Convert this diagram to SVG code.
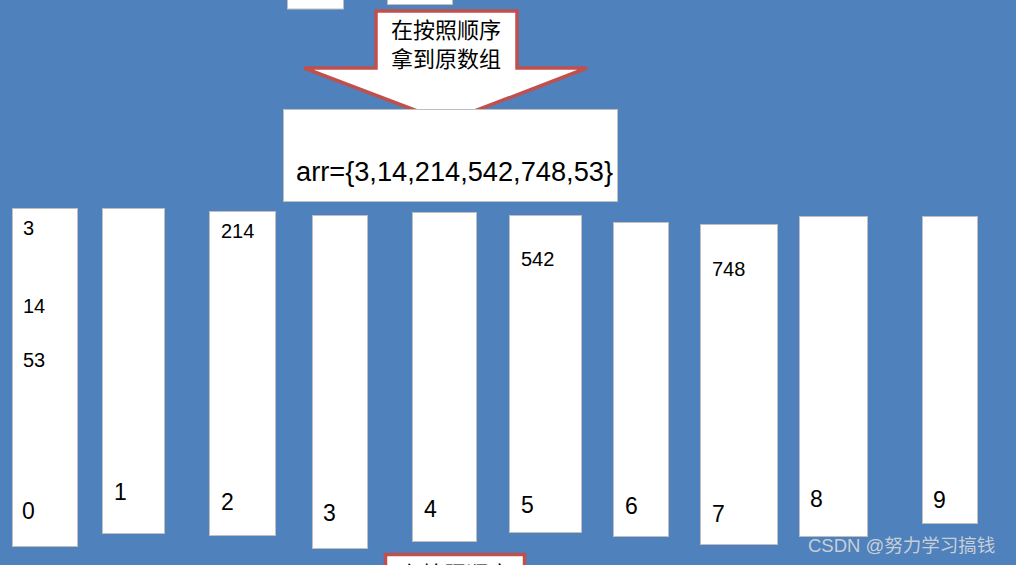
<svg xmlns="http://www.w3.org/2000/svg" width="1016" height="565" viewBox="0 0 1016 565">
<style>
.col{fill:#fff;stroke:#BFBFBF;stroke-width:1}
.v{font-family:"Liberation Sans",Arial,sans-serif;font-size:20px;fill:#000}
.i{font-family:"Liberation Sans",Arial,sans-serif;font-size:23px;fill:#000}
.cjk{font-family:"Liberation Sans","Noto Sans CJK SC",sans-serif;font-size:22px;fill:#000}
</style>
<rect x="0" y="0" width="1016" height="565" fill="#4F81BD"/>
<g id="top-boxes">
<rect class="col" x="287.5" y="-2" width="56" height="11"/>
<rect class="col" x="387.5" y="-2" width="65" height="6.5"/>
</g>
<g id="connectors">
<path d="M376,11 L517,11 L517,68 L587,68 L446,122 L304,68 L376,68 Z" fill="#fff" stroke="#C0504D" stroke-width="3.5" stroke-linejoin="miter"/>
<text class="cjk" x="446" y="38" text-anchor="middle">在按照顺序</text>
<text class="cjk" x="446" y="67" text-anchor="middle">拿到原数组</text>
</g>
<g id="arr-box">
<rect class="col" x="283.5" y="109.5" width="334" height="92"/>
<text x="296" y="181" font-family="'Liberation Sans',Arial,sans-serif" font-size="27" textLength="317" lengthAdjust="spacingAndGlyphs" fill="#000">arr={3,14,214,542,748,53}</text>
</g>
<g id="bucket0">
<rect class="col" x="12.5" y="208.5" width="65" height="338"/>
<text class="v" x="23" y="235">3</text>
<text class="v" x="23" y="313">14</text>
<text class="v" x="23" y="367">53</text>
<text class="i" x="22" y="519">0</text>
</g>
<g id="bucket1">
<rect class="col" x="102.5" y="208.5" width="62" height="325"/>
<text class="i" x="114" y="500">1</text>
</g>
<g id="bucket2">
<rect class="col" x="209.5" y="211.5" width="66" height="324"/>
<text class="v" x="221" y="238">214</text>
<text class="i" x="221" y="510">2</text>
</g>
<g id="bucket3">
<rect class="col" x="312.5" y="215.5" width="55" height="333"/>
<text class="i" x="323" y="521">3</text>
</g>
<g id="bucket4">
<rect class="col" x="412.5" y="212.5" width="64" height="329"/>
<text class="i" x="424" y="517">4</text>
</g>
<g id="bucket5">
<rect class="col" x="509.5" y="215.5" width="72" height="317"/>
<text class="v" x="521" y="266">542</text>
<text class="i" x="521" y="513">5</text>
</g>
<g id="bucket6">
<rect class="col" x="613.5" y="222.5" width="55" height="314"/>
<text class="i" x="625" y="514">6</text>
</g>
<g id="bucket7">
<rect class="col" x="700.5" y="224.5" width="77" height="320"/>
<text class="v" x="712" y="276">748</text>
<text class="i" x="712" y="522">7</text>
</g>
<g id="bucket8">
<rect class="col" x="799.5" y="216.5" width="68" height="320"/>
<text class="i" x="810" y="507">8</text>
</g>
<g id="bucket9">
<rect class="col" x="922.5" y="216.5" width="55" height="307"/>
<text class="i" x="933" y="508">9</text>
</g>
<g id="bottom-box">
<rect x="385.5" y="554.5" width="139" height="40" fill="#fff" stroke="#C0504D" stroke-width="3.5"/>
<text class="cjk" x="455" y="582" text-anchor="middle">在按照顺序</text>
</g>
<text x="808" y="552" font-family="'Liberation Sans','Noto Sans CJK SC',sans-serif" font-size="18.5" fill="#D9D9D9" fill-opacity="0.9">CSDN @努力学习搞钱</text>
</svg>
